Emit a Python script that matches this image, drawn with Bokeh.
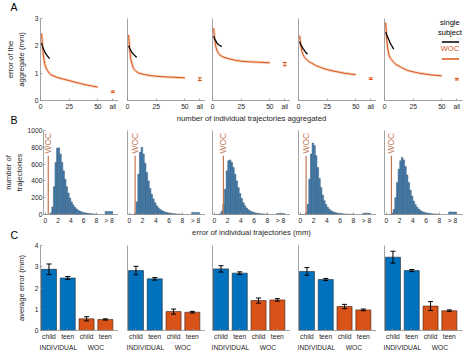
import numpy as np
from bokeh.plotting import figure
from bokeh.layouts import column, row
from bokeh.models import FixedTicker, Range1d, ColumnDataSource, Whisker, TeeHead, Label, LinearAxis
from bokeh.embed import file_html
from bokeh.resources import INLINE
from bokeh.core.properties import value

# ---------------- Panel A data: error of the aggregate (mm) ----------------
N_AGG = [1, 2, 3, 4, 5, 6, 8, 10, 15, 20, 25, 30, 35, 40, 45, 50]
WOC_1 = [2.45, 1.85, 1.50, 1.30, 1.18, 1.10, 0.98, 0.92, 0.84, 0.78, 0.73, 0.67, 0.62, 0.57, 0.53, 0.49]
WOC_2 = [2.40, 1.80, 1.50, 1.32, 1.20, 1.13, 1.05, 1.00, 0.95, 0.91, 0.89, 0.87, 0.86, 0.85, 0.84, 0.83]
WOC_3 = [2.65, 2.20, 1.95, 1.82, 1.74, 1.68, 1.62, 1.58, 1.52, 1.47, 1.44, 1.42, 1.41, 1.40, 1.39, 1.38]
WOC_4 = [2.37, 2.00, 1.80, 1.68, 1.60, 1.54, 1.46, 1.40, 1.28, 1.20, 1.13, 1.08, 1.04, 1.00, 0.97, 0.95]
WOC_5 = [2.85, 2.20, 1.85, 1.65, 1.55, 1.50, 1.40, 1.32, 1.20, 1.10, 1.05, 1.00, 0.97, 0.94, 0.92, 0.90]
N_SINGLE = [1, 2, 3, 4, 5, 6, 7, 8]
SINGLE_1 = [2.10, 1.95, 1.85, 1.76, 1.69, 1.63, 1.58, 1.53]
SINGLE_2 = [2.00, 1.90, 1.82, 1.75, 1.70, 1.66, 1.62, 1.58]
SINGLE_3 = [2.35, 2.25, 2.17, 2.10, 2.05, 2.02, 2.00, 1.97]
SINGLE_4 = [2.15, 2.05, 1.97, 1.90, 1.84, 1.78, 1.73, 1.70]
SINGLE_5 = [2.50, 2.40, 2.30, 2.20, 2.10, 2.02, 1.95, 1.88]
ALL_MEAN = [0.32, 0.78, 1.33, 0.80, 0.78]
ALL_ERR = [0.03, 0.05, 0.06, 0.03, 0.03]
A_XTICKS = [0, 25, 50, 63]
A_XLABELS = ["0", "25", "50", "all"]
A_YTICKS = [0, 1, 2, 3]

# ---------------- Panel B data: histograms (bins of 0.25 mm, 0..8, then > 8) ----------------
BIN_EDGES = [i * 0.25 for i in range(33)]
HIST_1 = [0, 0, 0, 20, 90, 330, 620, 790, 795, 720, 620, 520, 420, 330, 255, 195,
          150, 115, 88, 68, 53, 42, 33, 26, 21, 17, 14, 11, 9, 8, 7, 6]
HIST_2 = [0, 0, 0, 15, 150, 480, 740, 800, 720, 610, 500, 400, 310, 240, 185, 140,
          105, 80, 62, 48, 38, 30, 24, 19, 15, 12, 10, 8, 7, 6, 5, 4]
HIST_3 = [0, 0, 0, 10, 40, 120, 300, 520, 640, 650, 620, 560, 480, 400, 320, 250,
          190, 140, 105, 78, 58, 44, 34, 26, 20, 16, 13, 10, 8, 7, 6, 5]
HIST_4 = [0, 0, 0, 20, 120, 420, 720, 850, 820, 700, 560, 430, 320, 230, 165, 120,
          85, 62, 45, 34, 26, 20, 16, 13, 11, 9, 7, 6, 5, 4, 4, 3]
HIST_5 = [0, 0, 0, 15, 60, 200, 380, 540, 640, 680, 650, 570, 470, 380, 290, 220,
          160, 120, 88, 65, 48, 36, 28, 22, 17, 14, 11, 9, 7, 6, 5, 4]
OVER8 = [35, 25, 12, 15, 30]
OVER8_POS = 10
WOC_LINE = [0.45, 0.85, 1.35, 0.85, 0.75]
B_XTICKS = [0, 2, 4, 6, 8, 10]
B_XLABELS = ["0", "2", "4", "6", "8", "> 8"]
B_YTICKS = [0, 200, 400, 600, 800, 1000]

# ---------------- Panel C data: average error (mm) ----------------
C_POS = [1, 2, 3, 4]
C_SUB = ["child", "teen", "child", "teen"]
C_GROUP_POS = [1.5, 3.5]
C_GROUPS = ["INDIVIDUAL", "WOC"]
IND_CHILD = [2.88, 2.82, 2.90, 2.78, 3.45]
IND_CHILD_ERR = [0.25, 0.20, 0.15, 0.18, 0.28]
IND_TEEN = [2.47, 2.43, 2.70, 2.40, 2.82]
IND_TEEN_ERR = [0.07, 0.06, 0.06, 0.05, 0.05]
WOC_CHILD = [0.55, 0.89, 1.41, 1.13, 1.15]
WOC_CHILD_ERR = [0.10, 0.12, 0.12, 0.10, 0.21]
WOC_TEEN = [0.52, 0.86, 1.44, 0.97, 0.93]
WOC_TEEN_ERR = [0.03, 0.04, 0.06, 0.04, 0.04]
C_YTICKS = [0, 1, 2, 3, 4]

WOC_CURVES = [WOC_1, WOC_2, WOC_3, WOC_4, WOC_5]
SINGLE_CURVES = [SINGLE_1, SINGLE_2, SINGLE_3, SINGLE_4, SINGLE_5]
HISTS = [HIST_1, HIST_2, HIST_3, HIST_4, HIST_5]

# ---------------- styling / layout ----------------
FONT = "Liberation Sans"
AX_COLOR = "#8a8a8a"
TXT = "#262626"
BLUE = "#0072BD"
ORANGE = "#D95319"
BAND = "#F8D5C3"
HIST_FILL = "#4683B5"
HIST_EDGE = "#2A4A66"
WOC_LINE_COLOR = "#C27450"

PAGE_W = 474
FW = 78
LEFTS = [40, 9, 7, 8, 8]
RIGHT_LAST = 12
PANEL3_CENTER = LEFTS[0] + FW + LEFTS[1] + FW + LEFTS[2] + FW / 2


def style_axis(ax):
    ax.axis_line_color = AX_COLOR
    ax.axis_line_width = 0.8
    ax.major_tick_line_color = AX_COLOR
    ax.major_tick_line_width = 0.8
    ax.major_tick_in = 2
    ax.major_tick_out = 0
    ax.minor_tick_line_color = None
    ax.major_label_text_font = FONT
    ax.major_label_text_font_size = "6.7px"
    ax.major_label_text_color = TXT
    ax.major_label_standoff = 2
    ax.axis_label_text_font = FONT
    ax.axis_label_text_font_size = "7.7px"
    ax.axis_label_text_font_style = "normal"
    ax.axis_label_text_color = TXT
    ax.axis_label_standoff = 2


def make_fig(col, top, fh, bottom, xr, yr):
    left = LEFTS[col]
    right = RIGHT_LAST if col == 4 else 0
    p = figure(width=left + FW + right, height=top + fh + bottom, title=None,
               x_range=xr, y_range=yr, output_backend="svg", toolbar_location=None,
               min_border_left=left, min_border_right=right,
               min_border_top=top, min_border_bottom=bottom)
    p.outline_line_color = None
    p.xgrid.visible = False
    p.ygrid.visible = False
    p.background_fill_color = "white"
    p.border_fill_color = "white"
    for ax in p.xaxis + p.yaxis:
        style_axis(ax)
    if col != 0:
        p.yaxis.ticker = FixedTicker(ticks=[])
    return p


def strip(h, items):
    """Full-width text strip (panel letters and shared x labels)."""
    s = figure(width=PAGE_W, height=h, title=None, x_range=Range1d(0, PAGE_W), y_range=Range1d(0, h),
               output_backend="svg", toolbar_location=None,
               min_border_left=0, min_border_right=0, min_border_top=0, min_border_bottom=0)
    s.axis.visible = False
    s.xgrid.visible = False
    s.ygrid.visible = False
    s.outline_line_color = None
    s.border_fill_color = "white"
    for (x, y, txt, size, align) in items:
        s.text(x=[x], y=[y], text=[txt], text_font=value(FONT), text_font_size=size,
               text_align=align, text_baseline="middle",
               text_color="black" if size == "10.5px" else TXT)
    return s


# ---------------- Row A ----------------
row_a = []
for i in range(5):
    p = make_fig(i, 4, 82, 12, Range1d(0, 68), Range1d(0, 3))
    p.xaxis.ticker = FixedTicker(ticks=A_XTICKS)
    p.xaxis.major_label_overrides = {t: l for t, l in zip(A_XTICKS, A_XLABELS)}
    p.line(N_AGG, WOC_CURVES[i], line_color=BAND, line_width=2.8)
    p.line(N_AGG, WOC_CURVES[i], line_color=ORANGE, line_width=1.0)
    p.line(N_SINGLE, SINGLE_CURVES[i], line_color="black", line_width=1.3)
    src = ColumnDataSource(dict(x=[A_XTICKS[3]], y=[ALL_MEAN[i]],
                                lo=[ALL_MEAN[i] - ALL_ERR[i]], hi=[ALL_MEAN[i] + ALL_ERR[i]]))
    p.add_layout(Whisker(source=src, base="x", lower="lo", upper="hi", line_color=ORANGE,
                         line_width=1, level="overlay",
                         upper_head=TeeHead(size=4, line_color=ORANGE, line_width=1),
                         lower_head=TeeHead(size=4, line_color=ORANGE, line_width=1)))
    if i == 0:
        p.yaxis.ticker = FixedTicker(ticks=A_YTICKS)
        p.yaxis.axis_label = "error of the\naggregate (mm)"
        p.yaxis.axis_label_standoff = 6
    if i == 4:
        for (yy, txt, col) in [(2.70, "single", "black"), (2.34, "subject", "black"),
                               (1.74, "WOC", ORANGE)]:
            p.add_layout(Label(x=57, y=yy, text=txt, text_align="center", text_font=FONT,
                               text_font_size="7.5px", text_color=col))
        p.segment(x0=[50], y0=[2.14], x1=[65], y1=[2.14], line_color="black", line_width=1.5)
        p.segment(x0=[50], y0=[1.52], x1=[65], y1=[1.52], line_color=ORANGE, line_width=1.5)
    row_a.append(p)

# ---------------- Row B ----------------
row_b = []
for i in range(5):
    p = make_fig(i, 4, 85, 11, Range1d(-0.3, 11.5), Range1d(0, 1000))
    p.xaxis.ticker = FixedTicker(ticks=B_XTICKS)
    p.xaxis.major_label_overrides = {t: l for t, l in zip(B_XTICKS, B_XLABELS)}
    p.quad(left=BIN_EDGES[:-1], right=BIN_EDGES[1:], bottom=0, top=HISTS[i],
           fill_color=HIST_FILL, line_color=HIST_EDGE, line_width=0.4)
    p.quad(left=[OVER8_POS - 0.6], right=[OVER8_POS + 0.6], bottom=0, top=[OVER8[i]],
           fill_color=HIST_FILL, line_color=HIST_EDGE, line_width=0.4)
    p.segment(x0=[WOC_LINE[i]], y0=[0], x1=[WOC_LINE[i]], y1=[700],
              line_color=WOC_LINE_COLOR, line_width=1.2)
    p.text(x=[WOC_LINE[i]], y=[725], text=["WOC"], angle=np.pi / 2, text_align="left",
           text_baseline="middle", text_font=value(FONT), text_font_size="8.5px",
           text_color=WOC_LINE_COLOR)
    if i == 0:
        p.yaxis.ticker = FixedTicker(ticks=B_YTICKS)
        p.yaxis.axis_label = "number of\ntrajectories"
        p.yaxis.major_label_standoff = 1
        p.yaxis.axis_label_standoff = 1
    row_b.append(p)

# ---------------- Row C ----------------
row_c = []
for i in range(5):
    p = make_fig(i, 4, 85, 30, Range1d(0.55, 4.7), Range1d(0, 4))
    p.vbar(x=C_POS[:2], top=[IND_CHILD[i], IND_TEEN[i]], width=0.8,
           fill_color=BLUE, line_color="#1c2a36", line_width=0.6)
    p.vbar(x=C_POS[2:], top=[WOC_CHILD[i], WOC_TEEN[i]], width=0.8,
           fill_color=ORANGE, line_color="#3a2218", line_width=0.6)
    means = [IND_CHILD[i], IND_TEEN[i], WOC_CHILD[i], WOC_TEEN[i]]
    errs = [IND_CHILD_ERR[i], IND_TEEN_ERR[i], WOC_CHILD_ERR[i], WOC_TEEN_ERR[i]]
    src = ColumnDataSource(dict(x=C_POS, lo=[m - e for m, e in zip(means, errs)],
                                hi=[m + e for m, e in zip(means, errs)]))
    p.add_layout(Whisker(source=src, base="x", lower="lo", upper="hi", line_color="black",
                         line_width=1, level="overlay",
                         upper_head=TeeHead(size=5, line_color="black", line_width=1),
                         lower_head=TeeHead(size=5, line_color="black", line_width=1)))
    p.xaxis.ticker = FixedTicker(ticks=C_POS)
    p.xaxis.major_label_overrides = {t: l for t, l in zip(C_POS, C_SUB)}
    grp = LinearAxis(ticker=FixedTicker(ticks=C_GROUP_POS),
                     major_label_overrides={t: l for t, l in zip(C_GROUP_POS, C_GROUPS)})
    style_axis(grp)
    grp.axis_line_color = None
    grp.major_tick_line_color = None
    grp.major_label_standoff = 1
    p.add_layout(grp, "below")
    if i == 0:
        p.yaxis.ticker = FixedTicker(ticks=C_YTICKS)
        p.yaxis.axis_label = "average error (mm)"
        p.yaxis.axis_label_standoff = 6
    row_c.append(p)

# ---------------- text strips ----------------
s1 = strip(14, [(10, 7.5, "A", "10.5px", "left")])
s2 = strip(14, [(PANEL3_CENTER, 8, "number of individual trajectories aggregated", "7.7px", "center"),
                (10, 6.5, "B", "10.5px", "left")])
s3 = strip(15, [(PANEL3_CENTER, 9, "error of individual trajectories (mm)", "7.7px", "center"),
                (10, 6.5, "C", "10.5px", "left")])

layout = column(s1, row(*row_a), s2, row(*row_b), s3, row(*row_c))
open("out.html", "w").write(file_html(layout, INLINE))
